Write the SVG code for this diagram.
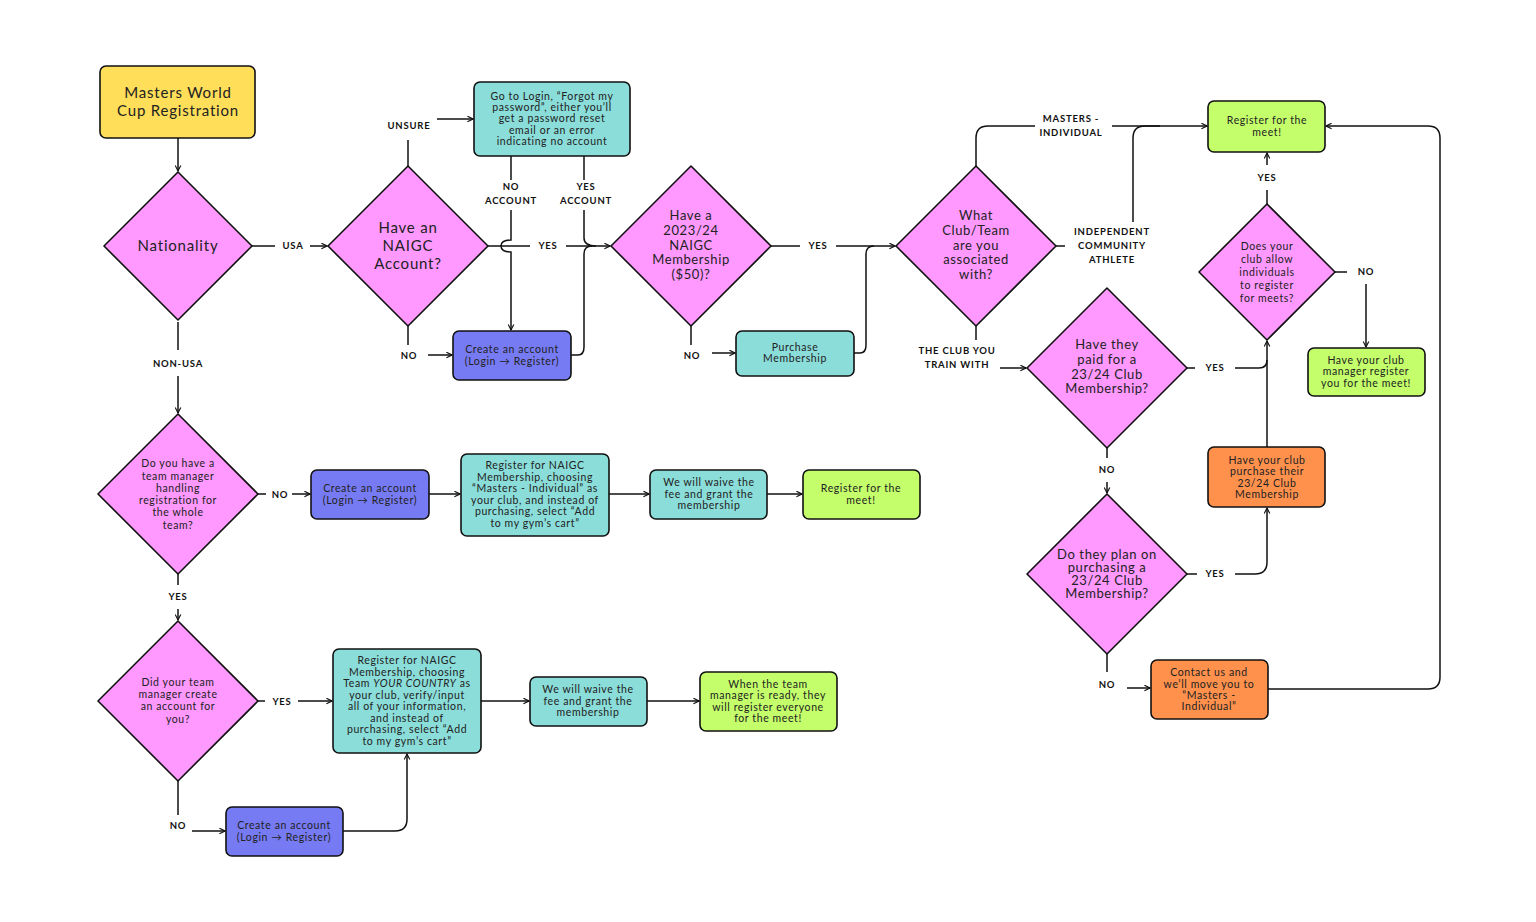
<svg xmlns="http://www.w3.org/2000/svg" width="1536" height="922" viewBox="0 0 1536 922">
<defs>
<marker id="ah" viewBox="0 0 10 10" refX="9" refY="5" markerWidth="7" markerHeight="7" orient="auto-start-reverse" markerUnits="userSpaceOnUse"><path d="M1,1 L9,5 L1,9" fill="none" stroke="#111" stroke-width="1.6"/></marker>
<style>
.n{stroke:#111;stroke-width:1.6;stroke-linejoin:round}
.y{fill:#FFDE59}.p{fill:#FF99FF}.b{fill:#777BF3}.t{fill:#8BDDD9}.g{fill:#C4FF6B}.o{fill:#FF914D}
text{font-family:Lato,"Noto Sans","Liberation Sans",sans-serif;fill:#222;text-anchor:middle}
.s{font-size:10.5px;letter-spacing:0.6px}
.d{font-size:13px;letter-spacing:0.6px}
.dl{font-size:15px;letter-spacing:0.8px}
.l{font-size:9.5px;font-weight:bold;letter-spacing:0.8px;fill:#111}
.c{fill:none;stroke:#111;stroke-width:1.5}
.a{marker-end:url(#ah)}
</style>
</defs>
<rect width="1536" height="922" fill="#fff"/>
<g id="connectors">
<path class="c a" d="M178,138 V171"/>
<path class="c" d="M252,246 H275"/><path class="c a" d="M310,246 H327"/>
<path class="c" d="M178,322 V350"/><path class="c a" d="M178,376 V413"/>
<path class="c" d="M408,166 V140"/><path class="c a" d="M437,119 H473"/>
<path class="c" d="M488,246 H530"/><path class="c a" d="M566,246 H610"/>
<path class="c" d="M511,156 V180"/><path class="c a" d="M511,210 V240 Q501,240 501,246 Q501,252 511,252 V330"/>
<path class="c" d="M584,156 V180"/><path class="c" d="M584,210 V238 Q584,246 596,246"/>
<path class="c" d="M408,326 V345"/><path class="c a" d="M428,355 H452"/>
<path class="c" d="M571,355 H578 Q584,355 584,347 V254 Q584,246 592,246"/>
<path class="c" d="M771,246 H800"/><path class="c a" d="M836,246 H895"/>
<path class="c" d="M854,353 H860 Q866,353 866,345 V254 Q866,246 874,246"/>
<path class="c" d="M691,326 V345"/><path class="c a" d="M712,353 H735"/>
<path class="c" d="M976,166 V138 Q976,126 988,126 H1035"/><path class="c a" d="M1112,126 H1207"/>
<path class="c" d="M1056,246 H1065"/><path class="c" d="M1133,222 V138 Q1133,126 1145,126 H1160"/>
<path class="c" d="M976,326 V340"/><path class="c a" d="M1000,368 H1026"/>
<path class="c" d="M1187,368 H1195"/><path class="c" d="M1235,368 H1259 Q1267,368 1267,360"/>
<path class="c a" d="M1267,447 V341"/>
<path class="c" d="M1267,204 V190"/><path class="c a" d="M1267,165 V153"/>
<path class="c" d="M1335,272 H1347"/><path class="c a" d="M1366,284 V347"/>
<path class="c" d="M1107,448 V458"/><path class="c a" d="M1107,482 V493"/>
<path class="c" d="M1187,574 H1197"/><path class="c a" d="M1235,574 H1255 Q1267,574 1267,562 V508"/>
<path class="c" d="M1107,654 V672"/><path class="c a" d="M1127,688 H1150"/>
<path class="c a" d="M1268,689 H1428 Q1440,689 1440,677 V138 Q1440,126 1428,126 H1326"/>
<path class="c" d="M258,494 H266"/><path class="c a" d="M292,494 H310"/>
<path class="c a" d="M429,494 H460"/><path class="c a" d="M609,494 H649"/><path class="c a" d="M767,494 H802"/>
<path class="c" d="M178,574 V585"/><path class="c a" d="M178,609 V620"/>
<path class="c" d="M258,701 H265"/><path class="c a" d="M298,701 H332"/>
<path class="c a" d="M481,701 H529"/><path class="c a" d="M647,701 H699"/>
<path class="c" d="M178,781 V815"/><path class="c a" d="M192,831 H225"/>
<path class="c a" d="M343,831 H395 Q407,831 407,819 V754"/>
<text class="l" x="293" y="249">USA</text>
<text class="l" x="178" y="367">NON-USA</text>
<text class="l" x="409" y="129">UNSURE</text>
<text class="l" x="548" y="249">YES</text>
<text class="l" x="511" y="190">NO</text><text class="l" x="511" y="204">ACCOUNT</text>
<text class="l" x="586" y="190">YES</text><text class="l" x="586" y="204">ACCOUNT</text>
<text class="l" x="409" y="359">NO</text>
<text class="l" x="818" y="249">YES</text>
<text class="l" x="692" y="359">NO</text>
<text class="l" x="1071" y="122">MASTERS -</text><text class="l" x="1071" y="136">INDIVIDUAL</text>
<text class="l" x="1112" y="235">INDEPENDENT</text><text class="l" x="1112" y="249">COMMUNITY</text><text class="l" x="1112" y="263">ATHLETE</text>
<text class="l" x="957" y="354">THE CLUB YOU</text><text class="l" x="957" y="368">TRAIN WITH</text>
<text class="l" x="1215" y="371">YES</text>
<text class="l" x="1267" y="181">YES</text>
<text class="l" x="1366" y="275">NO</text>
<text class="l" x="1107" y="473">NO</text>
<text class="l" x="1215" y="577">YES</text>
<text class="l" x="1107" y="688">NO</text>
<text class="l" x="280" y="498">NO</text>
<text class="l" x="178" y="600">YES</text>
<text class="l" x="282" y="705">YES</text>
<text class="l" x="178" y="829">NO</text>
</g>
<g id="start"><rect class="n y" x="100" y="66" width="155" height="72" rx="6"/><text class="dl" x="178" y="98">Masters World</text><text class="dl" x="178" y="116">Cup Registration</text></g>
<g id="nationality"><path class="n p" d="M178,172 L252,246 L178,320 L104,246 Z"/><text class="dl" x="178" y="251">Nationality</text></g>
<g id="account"><path class="n p" d="M408,166 L488,246 L408,326 L328,246 Z"/><text class="dl" x="408" y="233">Have an</text><text class="dl" x="408" y="251">NAIGC</text><text class="dl" x="408" y="269">Account?</text></g>
<g id="forgot"><rect class="n t" x="474" y="82" width="156" height="74" rx="6"/><text class="s" x="552" y="100">Go to Login, “Forgot my</text><text class="s" x="552" y="111">password”, either you’ll</text><text class="s" x="552" y="122">get a password reset</text><text class="s" x="552" y="134">email or an error</text><text class="s" x="552" y="145">indicating no account</text></g>
<g id="create1"><rect class="n b" x="453" y="331" width="118" height="49" rx="6"/><text class="s" x="512" y="353">Create an account</text><text class="s" x="512" y="365">(Login → Register)</text></g>
<g id="membership"><path class="n p" d="M691,166 L771,246 L691,326 L611,246 Z"/><text class="d" x="691" y="220">Have a</text><text class="d" x="691" y="235">2023/24</text><text class="d" x="691" y="250">NAIGC</text><text class="d" x="691" y="264">Membership</text><text class="d" x="691" y="279">($50)?</text></g>
<g id="purchase"><rect class="n t" x="736" y="331" width="118" height="45" rx="6"/><text class="s" x="795" y="351">Purchase</text><text class="s" x="795" y="362">Membership</text></g>
<g id="club"><path class="n p" d="M976,166 L1056,246 L976,326 L896,246 Z"/><text class="d" x="976" y="220">What</text><text class="d" x="976" y="235">Club/Team</text><text class="d" x="976" y="250">are you</text><text class="d" x="976" y="264">associated</text><text class="d" x="976" y="279">with?</text></g>
<g id="meet1"><rect class="n g" x="1208" y="101" width="117" height="51" rx="6"/><text class="s" x="1267" y="124">Register for the</text><text class="s" x="1267" y="136">meet!</text></g>
<g id="paid"><path class="n p" d="M1107,288 L1187,368 L1107,448 L1027,368 Z"/><text class="d" x="1107" y="349">Have they</text><text class="d" x="1107" y="364">paid for a</text><text class="d" x="1107" y="379">23/24 Club</text><text class="d" x="1107" y="393">Membership?</text></g>
<g id="allow"><path class="n p" d="M1267,204 L1335,272 L1267,340 L1199,272 Z"/><text class="s" x="1267" y="250">Does your</text><text class="s" x="1267" y="263">club allow</text><text class="s" x="1267" y="276">individuals</text><text class="s" x="1267" y="289">to register</text><text class="s" x="1267" y="302">for meets?</text></g>
<g id="mgrreg"><rect class="n g" x="1308" y="348" width="117" height="48" rx="6"/><text class="s" x="1366" y="364">Have your club</text><text class="s" x="1366" y="375">manager register</text><text class="s" x="1366" y="387">you for the meet!</text></g>
<g id="clubbuy"><rect class="n o" x="1208" y="447" width="117" height="60" rx="6"/><text class="s" x="1267" y="464">Have your club</text><text class="s" x="1267" y="475">purchase their</text><text class="s" x="1267" y="487">23/24 Club</text><text class="s" x="1267" y="498">Membership</text></g>
<g id="plan"><path class="n p" d="M1107,494 L1187,574 L1107,654 L1027,574 Z"/><text class="d" x="1107" y="559">Do they plan on</text><text class="d" x="1107" y="572">purchasing a</text><text class="d" x="1107" y="585">23/24 Club</text><text class="d" x="1107" y="598">Membership?</text></g>
<g id="contact"><rect class="n o" x="1151" y="660" width="117" height="59" rx="6"/><text class="s" x="1209" y="676">Contact us and</text><text class="s" x="1209" y="688">we’ll move you to</text><text class="s" x="1209" y="699">“Masters -</text><text class="s" x="1209" y="710">Individual”</text></g>
<g id="teammgr"><path class="n p" d="M178,414 L258,494 L178,574 L98,494 Z"/><text class="s" x="178" y="467">Do you have a</text><text class="s" x="178" y="480">team manager</text><text class="s" x="178" y="492">handling</text><text class="s" x="178" y="504">registration for</text><text class="s" x="178" y="516">the whole</text><text class="s" x="178" y="529">team?</text></g>
<g id="create2"><rect class="n b" x="311" y="470" width="118" height="49" rx="6"/><text class="s" x="370" y="492">Create an account</text><text class="s" x="370" y="504">(Login → Register)</text></g>
<g id="reg1"><rect class="n t" x="461" y="454" width="148" height="82" rx="6"/><text class="s" x="535" y="469">Register for NAIGC</text><text class="s" x="535" y="481">Membership, choosing</text><text class="s" x="535" y="492">“Masters - Individual” as</text><text class="s" x="535" y="504">your club, and instead of</text><text class="s" x="535" y="515">purchasing, select “Add</text><text class="s" x="535" y="527">to my gym’s cart”</text></g>
<g id="waive1"><rect class="n t" x="650" y="470" width="117" height="49" rx="6"/><text class="s" x="709" y="486">We will waive the</text><text class="s" x="709" y="498">fee and grant the</text><text class="s" x="709" y="509">membership</text></g>
<g id="meet2"><rect class="n g" x="803" y="470" width="117" height="49" rx="6"/><text class="s" x="861" y="492">Register for the</text><text class="s" x="861" y="504">meet!</text></g>
<g id="didmgr"><path class="n p" d="M178,621 L258,701 L178,781 L98,701 Z"/><text class="s" x="178" y="686">Did your team</text><text class="s" x="178" y="698">manager create</text><text class="s" x="178" y="710">an account for</text><text class="s" x="178" y="723">you?</text></g>
<g id="reg2"><rect class="n t" x="333" y="649" width="148" height="104" rx="6"/><text class="s" x="407" y="664">Register for NAIGC</text><text class="s" x="407" y="676">Membership, choosing</text><text class="s" x="407" y="687">Team <tspan font-style="italic">YOUR COUNTRY</tspan> as</text><text class="s" x="407" y="699">your club, verify/input</text><text class="s" x="407" y="710">all of your information,</text><text class="s" x="407" y="722">and instead of</text><text class="s" x="407" y="733">purchasing, select “Add</text><text class="s" x="407" y="745">to my gym’s cart”</text></g>
<g id="waive2"><rect class="n t" x="530" y="677" width="117" height="49" rx="6"/><text class="s" x="588" y="693">We will waive the</text><text class="s" x="588" y="705">fee and grant the</text><text class="s" x="588" y="716">membership</text></g>
<g id="ready"><rect class="n g" x="700" y="672" width="137" height="59" rx="6"/><text class="s" x="768" y="688">When the team</text><text class="s" x="768" y="699">manager is ready, they</text><text class="s" x="768" y="711">will register everyone</text><text class="s" x="768" y="722">for the meet!</text></g>
<g id="create3"><rect class="n b" x="226" y="807" width="117" height="49" rx="6"/><text class="s" x="284" y="829">Create an account</text><text class="s" x="284" y="841">(Login → Register)</text></g>
</svg>
